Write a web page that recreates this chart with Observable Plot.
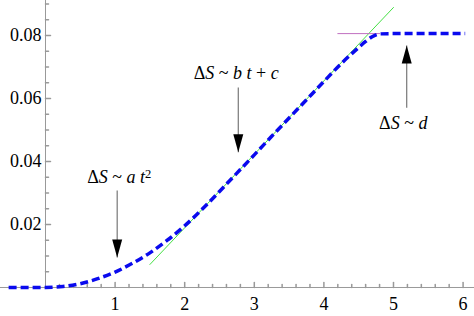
<!DOCTYPE html>
<html>
<head>
<meta charset="utf-8">
<script src="https://cdn.jsdelivr.net/npm/d3@7"></script>
<script src="https://cdn.jsdelivr.net/npm/@observablehq/plot@0.6"></script>
<style>
  html, body { margin: 0; padding: 0; background: #fff; }
  #chart svg { display: block; }
</style>
</head>
<body>
<div id="chart"></div>
<script>
// ---- data ----
const tValues = [-0.53, 0, 0.25, 0.5, 0.75, 1, 1.25, 1.5, 1.75, 2, 2.25, 2.5, 2.75, 3, 3.25, 3.5, 3.75, 4, 4.25, 4.5, 4.6, 4.7, 4.8, 5, 5.5, 6.03];
const sValues = [0, 0, 0.0003, 0.0012, 0.0028, 0.0049, 0.0077, 0.0110, 0.0150, 0.0196, 0.0248, 0.0305, 0.0363, 0.0421, 0.0480, 0.0538, 0.0596, 0.0654, 0.0711, 0.0762, 0.0781, 0.0797, 0.0805, 0.0806, 0.0806, 0.0806];

const linearT = [1.5, 5.0];          // green tangent  b t + c
const linearS = [0.0073, 0.0889];
const plateauT = [4.2, 4.8];         // purple plateau d
const plateauS = [0.0806, 0.0806];

const xTickLabels = [1, 2, 3, 4, 5, 6];
const yTickLabels = [0.02, 0.04, 0.06, 0.08];
const xMinorTicks = d3.range(1, 31).map(i => i / 5).filter(v => Math.abs(v - Math.round(v)) > 1e-9);
const yMinorTicks = d3.range(1, 19).map(i => i * 0.005).filter(v => Math.abs(v / 0.02 - Math.round(v / 0.02)) > 1e-9);

const annoText = ["\u0394S ~ a t\u00b2", "\u0394S ~ b t + c", "\u0394S ~ d"];
const annoTextX = [1.06, 2.74, 5.14];
const annoTextY = [0.0349, 0.0679, 0.0520];
const arrowX = [1.03, 2.77, 5.19];
const arrowFromY = [0.0308, 0.0635, 0.0571];
const arrowTipY = [0.0095, 0.0429, 0.0768];

// ---- build tables ----
const curve = tValues.map((t, i) => ({t, s: sValues[i]}));
const linear = linearT.map((t, i) => ({t, s: linearS[i]}));
const plateau = plateauT.map((t, i) => ({t, s: plateauS[i]}));
const annos = annoText.map((text, i) => ({
  text, tx: annoTextX[i], ty: annoTextY[i],
  ax: arrowX[i], a1: arrowFromY[i], a2: arrowTipY[i],
  up: arrowTipY[i] > arrowFromY[i]
}));

const headDown = {draw(ctx) { ctx.moveTo(0, 0); ctx.lineTo(-5, -18); ctx.lineTo(5, -18); ctx.closePath(); }};
const headUp = {draw(ctx) { ctx.moveTo(0, 0); ctx.lineTo(-5, 18); ctx.lineTo(5, 18); ctx.closePath(); }};
const tickShape = {draw(ctx, l) { ctx.moveTo(0, 0); ctx.lineTo(0, -l); }};

const axisColor = "#999";
const font = "Liberation Serif, DejaVu Serif, serif";

const chart = Plot.plot({
  width: 474,
  height: 316,
  margin: 0,
  x: {domain: [-0.6466, 6.164], axis: null},
  y: {domain: [-0.00921, 0.09111], axis: null},
  marks: [
    // axes
    Plot.ruleY([0], {stroke: axisColor, strokeWidth: 1}),
    Plot.ruleX([0], {y1: 0, y2: 0.09111, stroke: axisColor, strokeWidth: 1}),
    Plot.vector(xTickLabels, {x: d => d, y: 0, length: 5, rotate: 0, anchor: "start", shape: tickShape, stroke: axisColor}),
    Plot.vector(xMinorTicks, {x: d => d, y: 0, length: 3, rotate: 0, anchor: "start", shape: tickShape, stroke: axisColor}),
    Plot.vector(yTickLabels, {x: 0, y: d => d, length: 5, rotate: 90, anchor: "start", shape: tickShape, stroke: axisColor}),
    Plot.vector(yMinorTicks, {x: 0, y: d => d, length: 3, rotate: 90, anchor: "start", shape: tickShape, stroke: axisColor}),
    Plot.text(xTickLabels, {x: d => d, y: 0, dy: 17, text: d => String(d), fontSize: 18, fontFamily: font}),
    Plot.text(yTickLabels, {x: 0, y: d => d, dx: -4, text: d => d.toFixed(2), textAnchor: "end", fontSize: 18, fontFamily: font}),
    // guide lines
    Plot.line(linear, {x: "t", y: "s", stroke: "#44e044", strokeWidth: 1}),
    Plot.line(plateau, {x: "t", y: "s", stroke: "#c070c0", strokeWidth: 1}),
    // data curve
    Plot.line(curve, {x: "t", y: "s", curve: "monotone-x", stroke: "#0a0aee", strokeWidth: 3.5, strokeDasharray: "8,4", strokeLinecap: "butt"}),
    // annotations
    Plot.link(annos, {x1: "ax", x2: "ax", y1: "a1", y2: "a2", stroke: "#777", strokeWidth: 1.2}),
    Plot.dot(annos.filter(d => !d.up), {x: "ax", y: "a2", symbol: headDown, fill: "#000", stroke: "none"}),
    Plot.dot(annos.filter(d => d.up), {x: "ax", y: "a2", symbol: headUp, fill: "#000", stroke: "none"}),
    Plot.text(annos, {x: "tx", y: "ty", text: "text", fontSize: 18, fontFamily: font})
  ]
});

// annotation letters italic, superscript 2
d3.select(chart).selectAll("text").each(function() {
  const s = this.textContent;
  if (s.charAt(0) !== "\u0394") return;
  const el = d3.select(this);
  el.text(null);
  for (const ch of s) {
    if (ch === "\u00b2") {
      el.append("tspan").attr("font-size", "0.7em").attr("dy", "-0.45em").text("2");
    } else if (/[A-Za-z]/.test(ch)) {
      el.append("tspan").attr("font-style", "italic").text(ch);
    } else {
      el.append("tspan").text(ch);
    }
  }
});

document.getElementById("chart").appendChild(chart);
</script>
</body>
</html>
